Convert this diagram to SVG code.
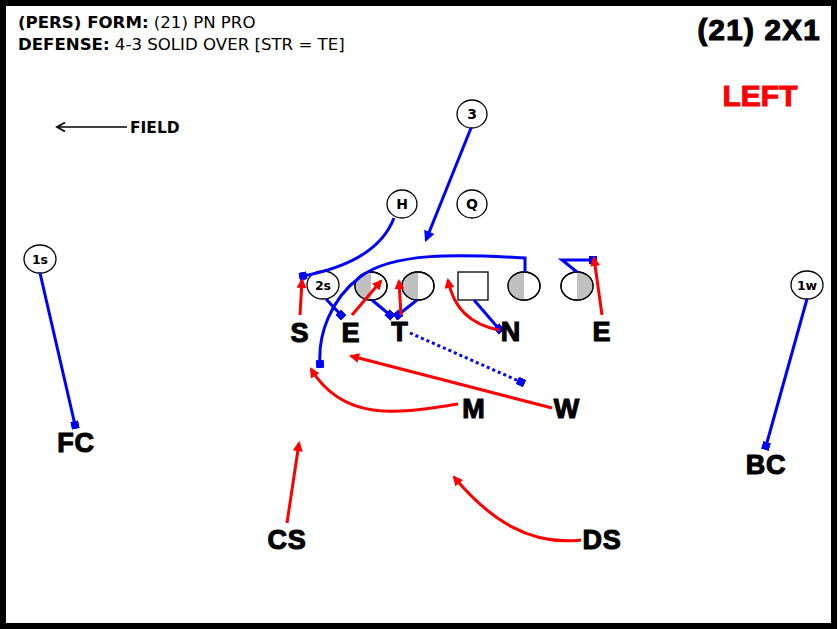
<svg xmlns="http://www.w3.org/2000/svg" width="840" height="629" viewBox="0 0 840 629">
<defs>
<marker id="ra" viewBox="0 0 10 10" refX="8" refY="5" markerWidth="11" markerHeight="10" markerUnits="userSpaceOnUse" orient="auto"><path d="M0,0 L10,5 L0,10 z" fill="#ff0000"/></marker>
<marker id="ba" viewBox="0 0 10 10" refX="8" refY="5" markerWidth="12" markerHeight="11" markerUnits="userSpaceOnUse" orient="auto"><path d="M0,0 L10,5 L0,10 z" fill="#0000ff"/></marker>
<marker id="bs" viewBox="0 0 10 10" refX="5" refY="5" markerWidth="8" markerHeight="8" markerUnits="userSpaceOnUse" orient="auto"><rect x="0" y="0" width="10" height="10" fill="#0000ff"/></marker>
<marker id="ka" viewBox="0 0 10 10" refX="9" refY="5" markerWidth="12" markerHeight="10" markerUnits="userSpaceOnUse" orient="auto"><path d="M1,0.5 L9,5 L1,9.5" fill="none" stroke="#000" stroke-width="1.8"/></marker>
</defs>
<style>
.hdr{font-family:"DejaVu Sans",Verdana,sans-serif;font-size:16.6px;fill:#000}
.b{font-weight:bold}
.def{font-family:"Liberation Sans",Arial,sans-serif;font-weight:bold;font-size:27px;fill:#000;stroke:#000;stroke-width:1.1;letter-spacing:0.8px;text-anchor:middle}
.off{fill:#fff;stroke:#000;stroke-width:1.3}
.ol{font-family:"DejaVu Sans",Verdana,sans-serif;font-weight:bold;font-size:14px;fill:#000;text-anchor:middle}
.ol2{font-family:"DejaVu Sans",Verdana,sans-serif;font-weight:bold;font-size:12.5px;fill:#000;text-anchor:middle}
.blue{fill:none;stroke:#0000ff;stroke-width:3}
.red{fill:none;stroke:#ff0000;stroke-width:3}
.gray{fill:#c0c0c0}
</style>
<rect x="0" y="0" width="840" height="629" fill="#fff"/>
<rect x="3" y="3" width="831" height="623" fill="none" stroke="#000" stroke-width="6"/>

<g id="header">
<text class="hdr" x="18" y="28"><tspan class="b">(PERS) FORM:</tspan> (21) PN PRO</text>
<text class="hdr" x="18" y="50"><tspan class="b">DEFENSE:</tspan> 4-3 SOLID OVER [STR = TE]</text>
<text x="821" y="40" font-family="Liberation Sans, Arial, sans-serif" font-weight="bold" font-size="29.5" stroke="#000" stroke-width="1.2" letter-spacing="1.3" text-anchor="end">(21) 2X1</text>
<text x="760" y="106" font-family="Liberation Sans, Arial, sans-serif" font-weight="bold" font-size="30" fill="#ff0000" stroke="#ff0000" stroke-width="1" text-anchor="middle">LEFT</text>
</g>

<g id="field">
<line x1="127" y1="127" x2="57" y2="127" stroke="#000" stroke-width="1.6" marker-end="url(#ka)"/>
<text x="130" y="133" font-family="DejaVu Sans, Verdana, sans-serif" font-weight="bold" font-size="15.5">FIELD</text>
</g>

<g id="o-3"><ellipse class="off" cx="472" cy="114" rx="15" ry="14"/><text class="ol" x="472" y="119">3</text></g>
<g id="o-H"><ellipse class="off" cx="402" cy="204" rx="15" ry="14"/><text class="ol" x="402" y="209">H</text></g>
<g id="o-Q"><ellipse class="off" cx="472" cy="204" rx="15" ry="14"/><text class="ol" x="472" y="209">Q</text></g>
<g id="o-1s"><ellipse class="off" cx="40" cy="259" rx="16" ry="14"/><text class="ol2" x="40" y="264">1s</text></g>
<g id="o-2s"><ellipse class="off" cx="323" cy="285" rx="16" ry="14"/><text class="ol2" x="323" y="290">2s</text></g>
<g id="o-1w"><ellipse class="off" cx="807" cy="285" rx="16" ry="14"/><text class="ol2" x="807" y="290">1w</text></g>

<g id="ol-1"><ellipse class="off" cx="371" cy="286" rx="16" ry="14"/><path class="gray" d="M371,272 A16,14 0 0 0 371,300 z"/><ellipse cx="371" cy="286" rx="16" ry="14" fill="none" stroke="#000" stroke-width="1.3"/></g>
<g id="ol-2"><ellipse class="off" cx="418" cy="286" rx="16" ry="14"/><path class="gray" d="M418,272 A16,14 0 0 0 418,300 z"/><ellipse cx="418" cy="286" rx="16" ry="14" fill="none" stroke="#000" stroke-width="1.3"/></g>
<g id="ol-C"><rect class="off" x="458" y="272" width="30" height="28"/></g>
<g id="ol-4"><ellipse class="off" cx="524" cy="286" rx="16" ry="14"/><path class="gray" d="M524,272 A16,14 0 0 0 524,300 z"/><ellipse cx="524" cy="286" rx="16" ry="14" fill="none" stroke="#000" stroke-width="1.3"/></g>
<g id="ol-5"><ellipse class="off" cx="577" cy="286" rx="16" ry="14"/><path class="gray" d="M577,272 A16,14 0 0 1 577,300 z"/><ellipse cx="577" cy="286" rx="16" ry="14" fill="none" stroke="#000" stroke-width="1.3"/></g>

<g id="connectors">
<line class="blue" x1="471" y1="128" x2="426" y2="240" marker-end="url(#ba)"/>
<path class="blue" d="M394,218 Q377,262 303,276" marker-end="url(#bs)"/>
<line class="blue" x1="326" y1="299" x2="341" y2="315" marker-end="url(#bs)"/>
<path class="blue" d="M525,272 L525,258 C460,254 392,252 360,277 C330,300 318,335 320,364" marker-end="url(#bs)"/>
<line class="blue" x1="372" y1="300" x2="390" y2="315" marker-end="url(#bs)"/>
<line class="blue" x1="417" y1="300" x2="398" y2="315" marker-end="url(#bs)"/>
<line class="blue" x1="474" y1="300" x2="499" y2="329" marker-end="url(#bs)"/>
<path class="blue" d="M577,272 L562,260 L593,260" marker-end="url(#bs)"/>
<line class="blue" x1="40" y1="273" x2="75" y2="425" marker-end="url(#bs)"/>
<line class="blue" x1="807" y1="299" x2="766" y2="446" marker-end="url(#bs)"/>
<line class="blue" x1="410" y1="333" x2="521" y2="382" stroke-dasharray="3,3" marker-end="url(#bs)"/>
<line class="red" x1="300" y1="315" x2="302" y2="280" marker-end="url(#ra)"/>
<line class="red" x1="352" y1="315" x2="381" y2="281" marker-end="url(#ra)"/>
<line class="red" x1="401" y1="315" x2="399" y2="281" marker-end="url(#ra)"/>
<path class="red" d="M499,330 Q456,322 448,280" marker-end="url(#ra)"/>
<line class="red" x1="602" y1="315" x2="594" y2="258" marker-end="url(#ra)"/>
<path class="red" d="M458,404 C405,412 345,425 311,369" marker-end="url(#ra)"/>
<line class="red" x1="552" y1="408" x2="351" y2="356" marker-end="url(#ra)"/>
<line class="red" x1="287" y1="523" x2="299" y2="443" marker-end="url(#ra)"/>
<path class="red" d="M581,540 C530,546 490,520 454,477" marker-end="url(#ra)"/>
</g>

<g id="d-S"><text class="def" x="300" y="342">S</text></g>
<g id="d-E1"><text class="def" x="351" y="342">E</text></g>
<g id="d-T"><text class="def" x="400" y="341">T</text></g>
<g id="d-N"><text class="def" x="511" y="341">N</text></g>
<g id="d-E2"><text class="def" x="602" y="341">E</text></g>
<g id="d-M"><text class="def" x="474" y="418">M</text></g>
<g id="d-W"><text class="def" x="567" y="418">W</text></g>
<g id="d-FC"><text class="def" x="76" y="452">FC</text></g>
<g id="d-BC"><text class="def" x="766" y="474">BC</text></g>
<g id="d-CS"><text class="def" x="287" y="549">CS</text></g>
<g id="d-DS"><text class="def" x="602" y="549">DS</text></g>
</svg>
